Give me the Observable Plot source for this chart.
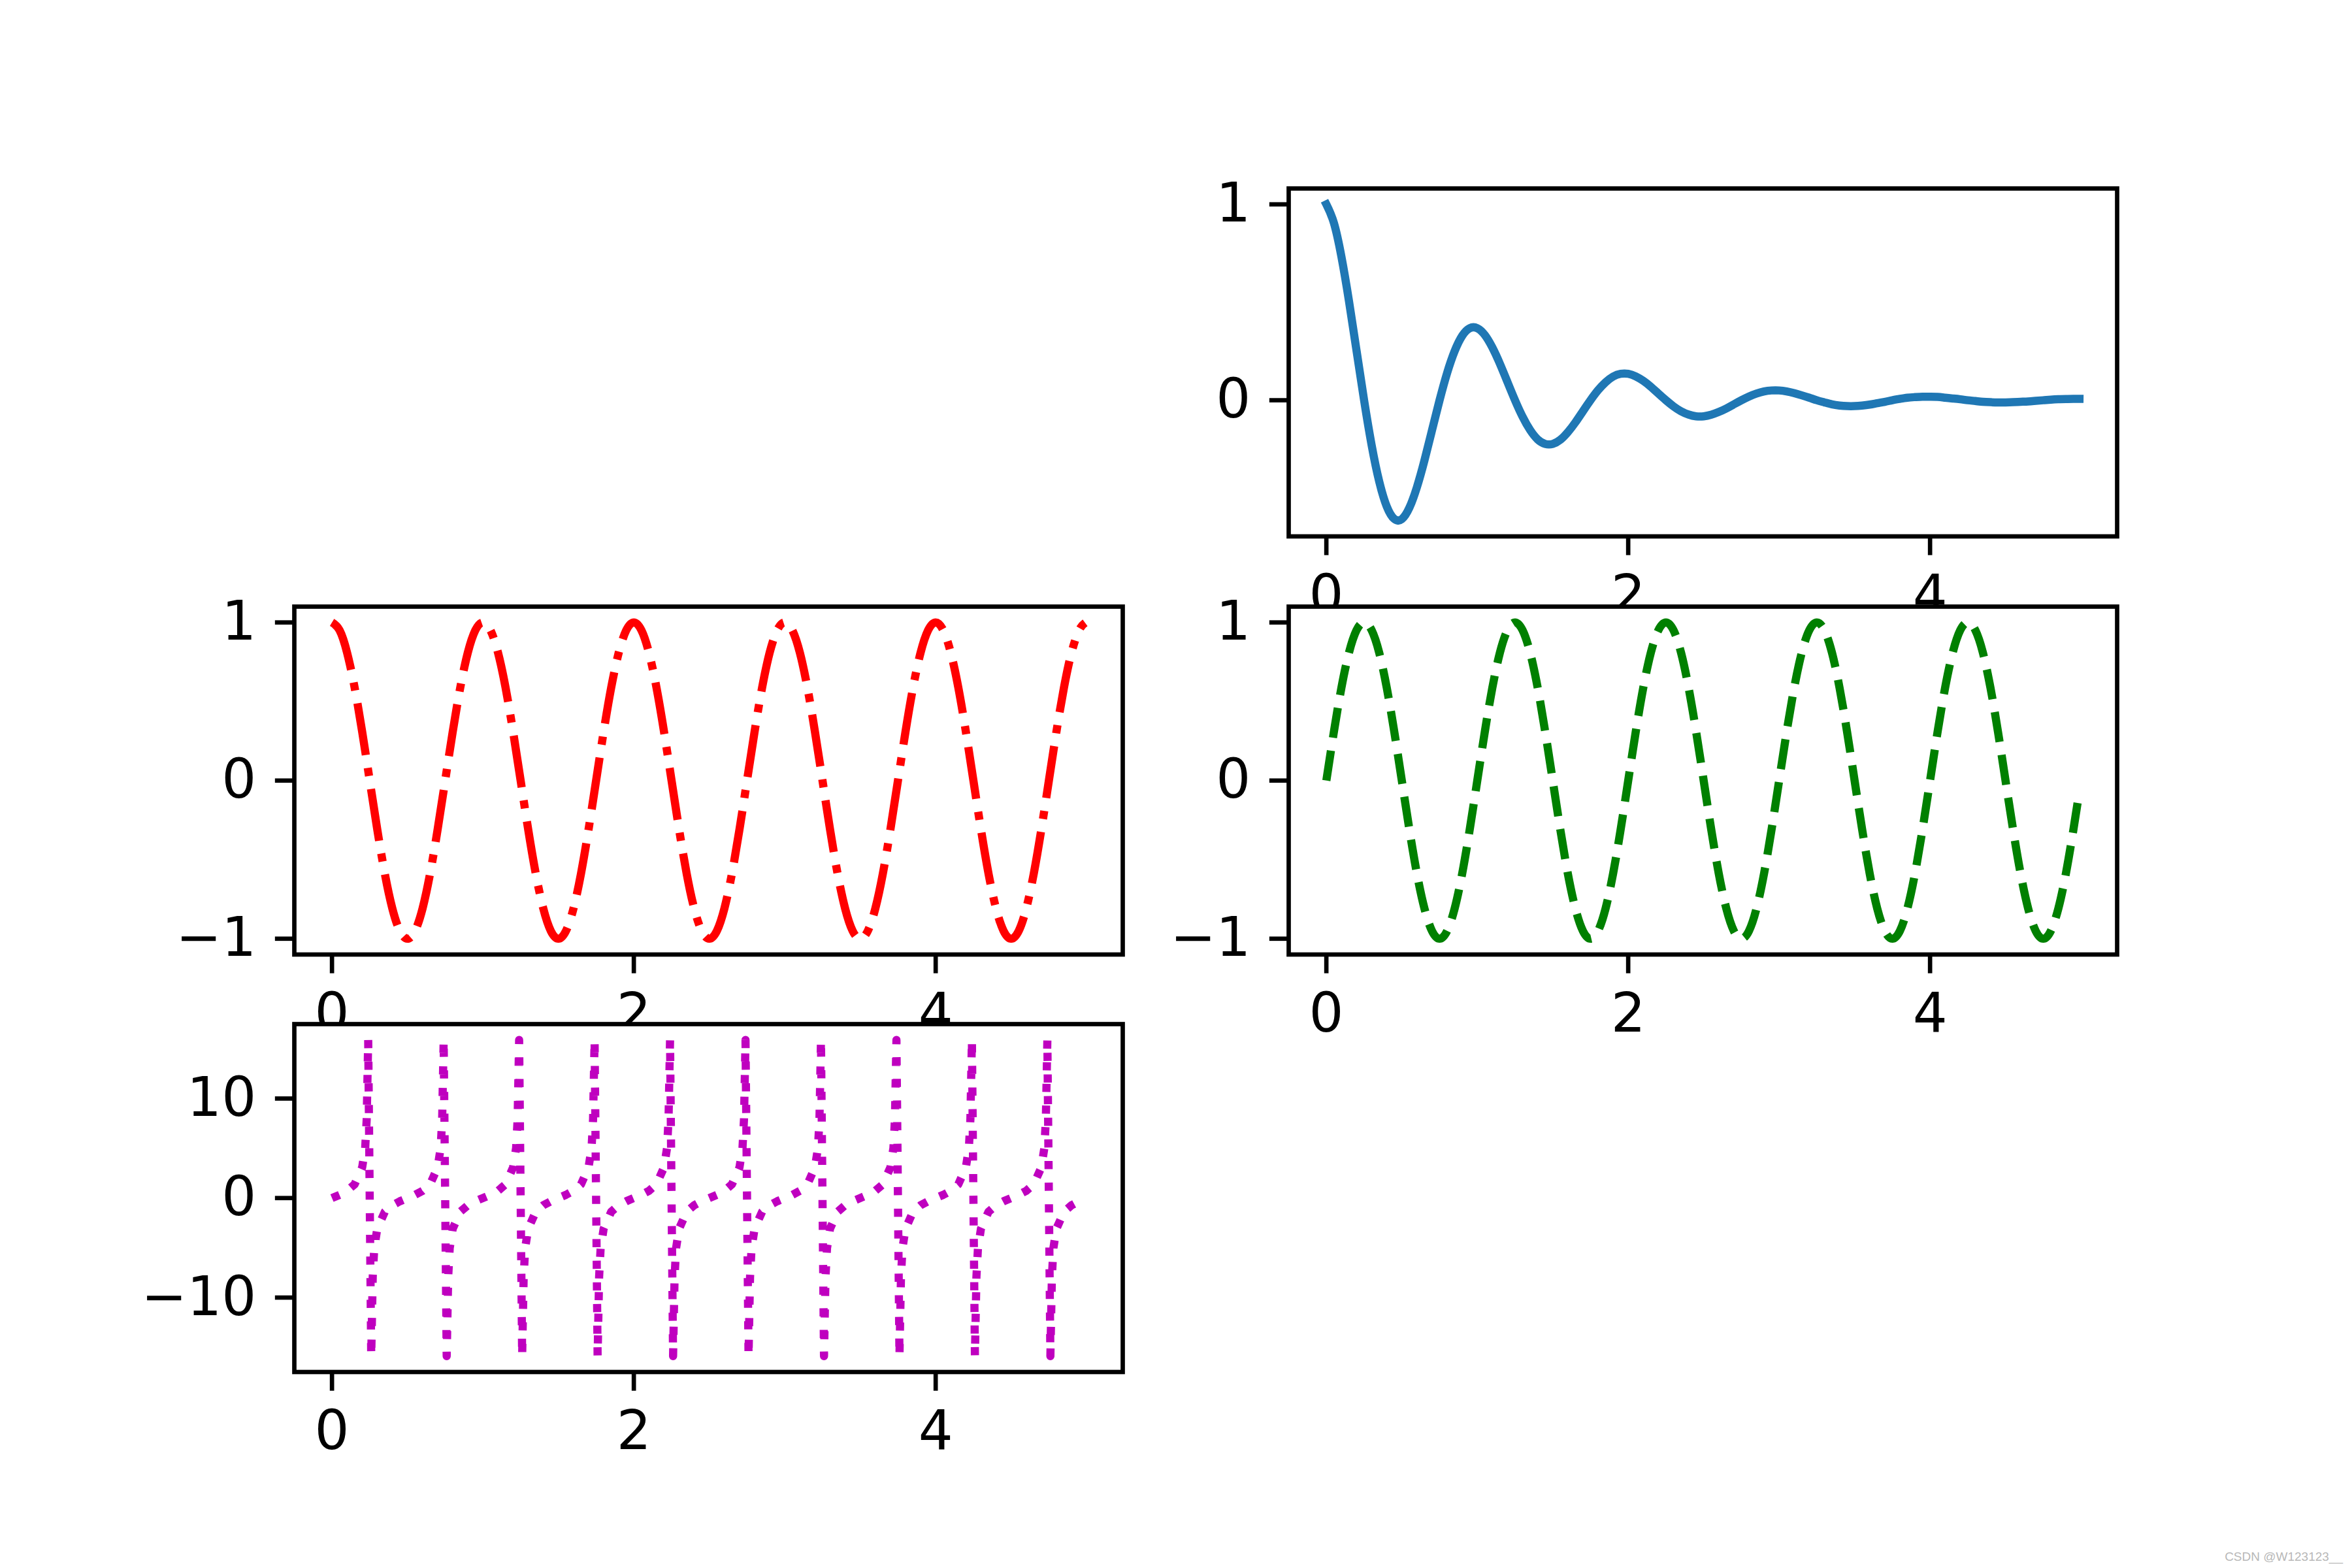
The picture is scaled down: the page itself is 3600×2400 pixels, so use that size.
<!DOCTYPE html>
<html>
<head>
<meta charset="utf-8">
<script src="https://cdn.jsdelivr.net/npm/d3@7"></script>
<script src="https://cdn.jsdelivr.net/npm/@observablehq/plot@0.6"></script>
<style>
html, body { margin: 0; padding: 0; background: #fff; }
#fig { position: relative; width: 3600px; height: 2400px; background: #fff; overflow: hidden; font-family: "DejaVu Sans"; }
#fig svg { position: absolute; overflow: visible; }
#wm { position: absolute; right: 14px; bottom: 6px; font-family: "Liberation Sans", Arial, sans-serif; font-size: 19px; color: #b8b8b8; }
</style>
</head>
<body>
<div id="fig"><div id="wm">CSDN @W123123__</div></div>
<script>
// ---- data ----
const t = [0,0.05,0.1,0.15,0.2,0.25,0.3,0.35,0.4,0.45,0.5,0.55,0.6,0.65,0.7,0.75,0.8,0.85,0.9,0.95,
           1.0,1.05,1.1,1.15,1.2,1.25,1.3,1.35,1.4,1.45,1.5,1.55,1.6,1.65,1.7,1.75,1.8,1.85,1.9,1.95,
           2.0,2.05,2.1,2.15,2.2,2.25,2.3,2.35,2.4,2.45,2.5,2.55,2.6,2.65,2.7,2.75,2.8,2.85,2.9,2.95,
           3.0,3.05,3.1,3.15,3.2,3.25,3.3,3.35,3.4,3.45,3.5,3.55,3.6,3.65,3.7,3.75,3.8,3.85,3.9,3.95,
           4.0,4.05,4.1,4.15,4.2,4.25,4.3,4.35,4.4,4.45,4.5,4.55,4.6,4.65,4.7,4.75,4.8,4.85,4.9,4.95,4.99];

const damped = [1,0.905,0.732,0.506,0.253,0,-0.229,-0.414,-0.542,-0.606,-0.607,-0.549,-0.444,-0.307,-0.153,0,0.139,0.251,0.329,0.368,
                0.368,0.333,0.269,0.186,0.093,0,-0.084,-0.152,-0.200,-0.223,-0.223,-0.202,-0.163,-0.113,-0.056,0,0.051,0.092,0.121,0.135,
                0.135,0.122,0.099,0.069,0.034,0,-0.031,-0.056,-0.073,-0.082,-0.082,-0.074,-0.060,-0.042,-0.021,0,0.019,0.034,0.045,0.050,
                0.050,0.045,0.036,0.025,0.013,0,-0.011,-0.021,-0.027,-0.030,-0.030,-0.027,-0.022,-0.015,-0.008,0,0.007,0.013,0.016,0.018,
                0.018,0.017,0.013,0.009,0.005,0,-0.004,-0.008,-0.010,-0.011,-0.011,-0.010,-0.008,-0.006,-0.003,0,0.003,0.005,0.006,0.007,0.007];

const cosV = [1,0.951,0.809,0.588,0.309,0,-0.309,-0.588,-0.809,-0.951,-1,-0.951,-0.809,-0.588,-0.309,0,0.309,0.588,0.809,0.951,
              1,0.951,0.809,0.588,0.309,0,-0.309,-0.588,-0.809,-0.951,-1,-0.951,-0.809,-0.588,-0.309,0,0.309,0.588,0.809,0.951,
              1,0.951,0.809,0.588,0.309,0,-0.309,-0.588,-0.809,-0.951,-1,-0.951,-0.809,-0.588,-0.309,0,0.309,0.588,0.809,0.951,
              1,0.951,0.809,0.588,0.309,0,-0.309,-0.588,-0.809,-0.951,-1,-0.951,-0.809,-0.588,-0.309,0,0.309,0.588,0.809,0.951,
              1,0.951,0.809,0.588,0.309,0,-0.309,-0.588,-0.809,-0.951,-1,-0.951,-0.809,-0.588,-0.309,0,0.309,0.588,0.809,0.951,0.998];

const sinV = [0,0.309,0.588,0.809,0.951,1,0.951,0.809,0.588,0.309,0,-0.309,-0.588,-0.809,-0.951,-1,-0.951,-0.809,-0.588,-0.309,
              0,0.309,0.588,0.809,0.951,1,0.951,0.809,0.588,0.309,0,-0.309,-0.588,-0.809,-0.951,-1,-0.951,-0.809,-0.588,-0.309,
              0,0.309,0.588,0.809,0.951,1,0.951,0.809,0.588,0.309,0,-0.309,-0.588,-0.809,-0.951,-1,-0.951,-0.809,-0.588,-0.309,
              0,0.309,0.588,0.809,0.951,1,0.951,0.809,0.588,0.309,0,-0.309,-0.588,-0.809,-0.951,-1,-0.951,-0.809,-0.588,-0.309,
              0,0.309,0.588,0.809,0.951,1,0.951,0.809,0.588,0.309,0,-0.309,-0.588,-0.809,-0.951,-1,-0.951,-0.809,-0.588,-0.309,-0.063];

const tanT = [0,0.05,0.1,0.15,0.2,0.22,0.23,0.24,0.26,0.27,0.28,0.3,0.35,0.4,0.45,
              0.5,0.55,0.6,0.65,0.7,0.72,0.73,0.74,0.76,0.77,0.78,0.8,0.85,0.9,0.95,
              1.0,1.05,1.1,1.15,1.2,1.22,1.23,1.24,1.26,1.27,1.28,1.3,1.35,1.4,1.45,
              1.5,1.55,1.6,1.65,1.7,1.72,1.73,1.74,1.76,1.77,1.78,1.8,1.85,1.9,1.95,
              2.0,2.05,2.1,2.15,2.2,2.22,2.23,2.24,2.26,2.27,2.28,2.3,2.35,2.4,2.45,
              2.5,2.55,2.6,2.65,2.7,2.72,2.73,2.74,2.76,2.77,2.78,2.8,2.85,2.9,2.95,
              3.0,3.05,3.1,3.15,3.2,3.22,3.23,3.24,3.26,3.27,3.28,3.3,3.35,3.4,3.45,
              3.5,3.55,3.6,3.65,3.7,3.72,3.73,3.74,3.76,3.77,3.78,3.8,3.85,3.9,3.95,
              4.0,4.05,4.1,4.15,4.2,4.22,4.23,4.24,4.26,4.27,4.28,4.3,4.35,4.4,4.45,
              4.5,4.55,4.6,4.65,4.7,4.72,4.73,4.74,4.76,4.77,4.78,4.8,4.85,4.9,4.95,4.99];

const tanV = [0,0.32,0.73,1.38,3.08,5.03,7.92,15.89,-15.89,-7.92,-5.03,-3.08,-1.38,-0.73,-0.32,
              0,0.32,0.73,1.38,3.08,5.03,7.92,15.89,-15.89,-7.92,-5.03,-3.08,-1.38,-0.73,-0.32,
              0,0.32,0.73,1.38,3.08,5.03,7.92,15.89,-15.89,-7.92,-5.03,-3.08,-1.38,-0.73,-0.32,
              0,0.32,0.73,1.38,3.08,5.03,7.92,15.89,-15.89,-7.92,-5.03,-3.08,-1.38,-0.73,-0.32,
              0,0.32,0.73,1.38,3.08,5.03,7.92,15.89,-15.89,-7.92,-5.03,-3.08,-1.38,-0.73,-0.32,
              0,0.32,0.73,1.38,3.08,5.03,7.92,15.89,-15.89,-7.92,-5.03,-3.08,-1.38,-0.73,-0.32,
              0,0.32,0.73,1.38,3.08,5.03,7.92,15.89,-15.89,-7.92,-5.03,-3.08,-1.38,-0.73,-0.32,
              0,0.32,0.73,1.38,3.08,5.03,7.92,15.89,-15.89,-7.92,-5.03,-3.08,-1.38,-0.73,-0.32,
              0,0.32,0.73,1.38,3.08,5.03,7.92,15.89,-15.89,-7.92,-5.03,-3.08,-1.38,-0.73,-0.32,
              0,0.32,0.73,1.38,3.08,5.03,7.92,15.89,-15.89,-7.92,-5.03,-3.08,-1.38,-0.73,-0.32,-0.06];

const xTicks = [0, 2, 4];
const dampedTicks = [0, 1];
const unitTicks = [-1, 0, 1];
const tanTicks = [-10, 0, 10];

// ---- layout / drawing ----
const fig = document.getElementById("fig");
const PX = 600 / 72;              // points -> pixels
const LW = 1.5 * PX;              // line width
const SW = 0.8 * PX;              // spine / tick width
const FS = 10 * PX;               // tick label size
const W = 1268, H = 532.5;
const colLeft = [450, 1972];
const rowTop = [288, 928, 1567];
const xDomain = [-0.2495, 5.2395];
const fmt = d => (d < 0 ? "\u2212" + Math.abs(d) : String(d));

function panel({xs, ys, stroke, dash, cap, curve, yDomain, yTicks, col, row}) {
  const data = xs.map((x, i) => ({t: x, v: ys[i]}));
  const mL = 280, mR = 40, mT = 40, mB = 220;
  const svg = Plot.plot({
    width: W + mL + mR, height: H + mT + mB,
    marginLeft: mL, marginRight: mR, marginTop: mT, marginBottom: mB,
    style: {background: "transparent", overflow: "visible", maxWidth: "none", fontFamily: "DejaVu Sans", color: "black"},
    x: {domain: xDomain, label: null},
    y: {domain: yDomain, label: null},
    marks: [
      Plot.frame({fill: "white"}),
      Plot.line(data, {x: "t", y: "v", stroke, strokeWidth: LW, strokeDasharray: dash, strokeLinecap: cap, strokeLinejoin: "round", curve}),
      Plot.frame({stroke: "black", strokeWidth: SW}),
      Plot.axisX({ticks: xTicks, tickSize: 3.5 * PX, tickPadding: 3.5 * PX, strokeWidth: SW, stroke: "black", fill: "black", fontSize: FS, label: null, tickFormat: fmt}),
      Plot.axisY({ticks: yTicks, tickSize: 3.5 * PX, tickPadding: 3.5 * PX, strokeWidth: SW, stroke: "black", fill: "black", fontSize: FS, label: null, tickFormat: fmt})
    ]
  });
  svg.style.left = (colLeft[col] - mL) + "px";
  svg.style.top = (rowTop[row] - mT) + "px";
  fig.appendChild(svg);
}

const dashDot = [9.6 * PX, 2.4 * PX, 1.5 * PX, 2.4 * PX].join(",");
const dashed = [5.55 * PX, 2.4 * PX].join(",");
const dotted = [1.5 * PX, 2.475 * PX].join(",");

panel({xs: t, ys: damped, stroke: "#1f77b4", dash: null, cap: "square", curve: "natural", yDomain: [-0.695, 1.081], yTicks: dampedTicks, col: 1, row: 0});
panel({xs: t, ys: cosV, stroke: "#ff0000", dash: dashDot, cap: "butt", curve: "natural", yDomain: [-1.1, 1.1], yTicks: unitTicks, col: 0, row: 1});
panel({xs: t, ys: sinV, stroke: "#008000", dash: dashed, cap: "butt", curve: "natural", yDomain: [-1.1, 1.1], yTicks: unitTicks, col: 1, row: 1});
panel({xs: tanT, ys: tanV, stroke: "#bf00bf", dash: dotted, cap: "butt", curve: "linear", yDomain: [-17.48, 17.48], yTicks: tanTicks, col: 0, row: 2});
</script>
</body>
</html>
